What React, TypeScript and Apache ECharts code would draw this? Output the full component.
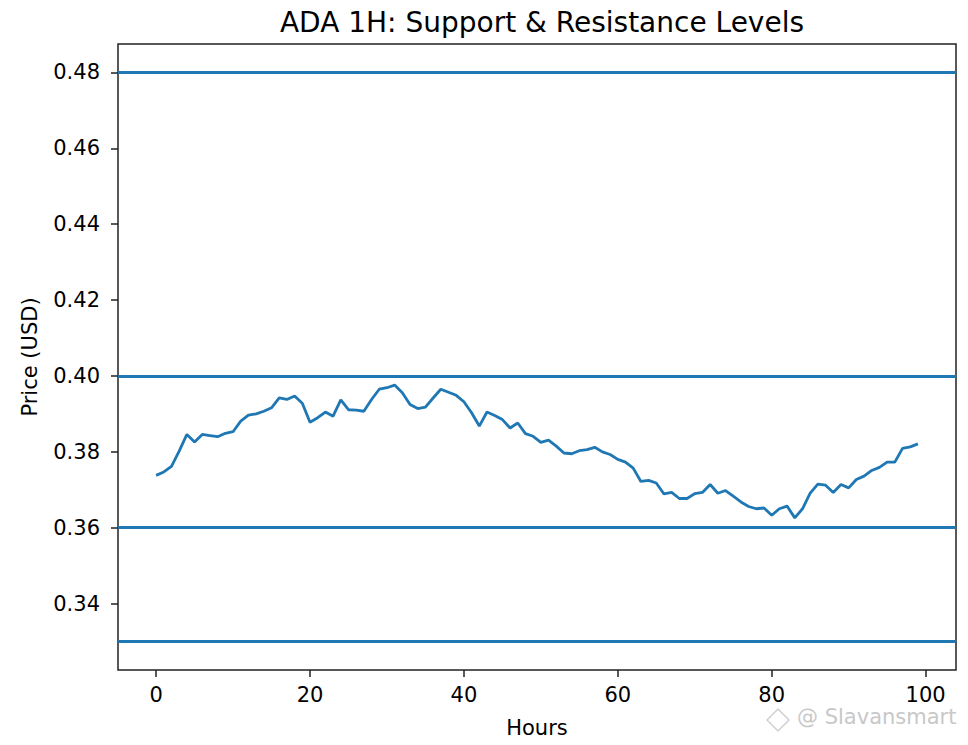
import React, { useEffect, useRef } from "react";
import * as echarts from "echarts";

const hours: number[] = Array.from({ length: 100 }, (_, i) => i);
const prices: number[] = [
  0.3738, 0.3747, 0.3762, 0.3802, 0.3846, 0.3826, 0.3846, 0.3843, 0.3840, 0.3849,
  0.3853, 0.3881, 0.3897, 0.3900, 0.3907, 0.3916, 0.3942, 0.3938, 0.3947, 0.3928,
  0.3878, 0.3890, 0.3905, 0.3894, 0.3937, 0.3911, 0.3910, 0.3907, 0.3938, 0.3965,
  0.3969, 0.3976, 0.3956, 0.3925, 0.3914, 0.3918, 0.3942, 0.3965, 0.3957, 0.3949,
  0.3932, 0.3903, 0.3868, 0.3905, 0.3896, 0.3885, 0.3863, 0.3876, 0.3848, 0.3841,
  0.3825, 0.3831, 0.3815, 0.3797, 0.3795, 0.3803, 0.3806, 0.3812, 0.3800, 0.3793,
  0.3780, 0.3773, 0.3757, 0.3722, 0.3725, 0.3718, 0.3689, 0.3693, 0.3677, 0.3677,
  0.3690, 0.3693, 0.3714, 0.3691, 0.3698, 0.3683, 0.3668, 0.3656, 0.3650, 0.3652,
  0.3633, 0.3650, 0.3657, 0.3626, 0.3650, 0.3691, 0.3715, 0.3712, 0.3693, 0.3714,
  0.3705, 0.3727, 0.3736, 0.3751, 0.3759, 0.3773, 0.3773, 0.3809, 0.3813, 0.3821,
];
const levels: number[] = [0.48, 0.40, 0.36, 0.33];
const xTicks: number[] = [0, 20, 40, 60, 80, 100];
const yTicks: number[] = [0.34, 0.36, 0.38, 0.40, 0.42, 0.44, 0.46, 0.48];

const FONT = "DejaVu Sans";
const BLUE = "#1f77b4";

export default function App() {
  const ref = useRef<HTMLDivElement>(null);
  useEffect(() => {
    if (!ref.current) return;
    const chart = echarts.init(ref.current, null, { renderer: "svg" });
    chart.setOption({
      animation: false,
      backgroundColor: "#ffffff",
      title: {
        text: "ADA 1H: Support & Resistance Levels",
        left: 537,
        top: 3,
        textAlign: "center",
        textStyle: { fontFamily: FONT, fontSize: 28, fontWeight: "normal", color: "#000" },
      },
      grid: {
        left: 118,
        top: 44,
        width: 838,
        height: 626,
        show: true,
        borderColor: "#222",
        borderWidth: 1.5,
        backgroundColor: "transparent",
      },
      xAxis: {
        type: "value",
        min: -4.95,
        max: 103.95,
        name: "Hours",
        nameLocation: "middle",
        nameGap: 47,
        nameTextStyle: { fontFamily: FONT, fontSize: 21, color: "#000" },
        axisLine: { show: false, onZero: false },
        axisTick: {
          show: true,
          customValues: xTicks,
          length: 7,
          lineStyle: { color: "#222", width: 1.5 },
        },
        axisLabel: {
          customValues: xTicks,
          margin: 14,
          fontFamily: FONT,
          fontSize: 21,
          color: "#000",
        },
        splitLine: { show: false },
      },
      yAxis: {
        type: "value",
        min: 0.3225,
        max: 0.4875,
        name: "Price (USD)",
        nameLocation: "middle",
        nameGap: 78,
        nameTextStyle: { fontFamily: FONT, fontSize: 21, color: "#000" },
        axisLine: { show: false, onZero: false },
        axisTick: {
          show: true,
          customValues: yTicks,
          length: 7,
          lineStyle: { color: "#222", width: 1.5 },
        },
        axisLabel: {
          customValues: yTicks,
          margin: 18,
          fontFamily: FONT,
          fontSize: 21,
          color: "#000",
          formatter: (v: number) => v.toFixed(2),
        },
        splitLine: { show: false },
      },
      series: [
        {
          type: "line",
          data: hours.map((h, i) => [h, prices[i]]),
          showSymbol: false,
          symbol: "none",
          lineStyle: { color: BLUE, width: 2.8 },
          markLine: {
            silent: true,
            symbol: ["none", "none"],
            label: { show: false },
            lineStyle: { color: BLUE, width: 2.8, type: "solid" },
            data: levels.map((l) => ({ yAxis: l })),
          },
        },
      ],
      graphic: [
        {
          type: "text",
          left: 797,
          top: 706,
          style: {
            text: "@ Slavansmart",
            fontFamily: FONT,
            fontSize: 21,
            fill: "#c8c8c8",
          },
        },
        {
          type: "polygon",
          shape: { points: [[778, 709], [789, 720], [778, 731], [767, 720]] },
          style: { fill: "none", stroke: "#d0d0d0", lineWidth: 1.5 },
        },
      ],
    });
    return () => chart.dispose();
  }, []);
  return (
    <div
      ref={ref}
      style={{ position: "absolute", left: 0, top: 0, width: 968, height: 745 }}
    />
  );
}
